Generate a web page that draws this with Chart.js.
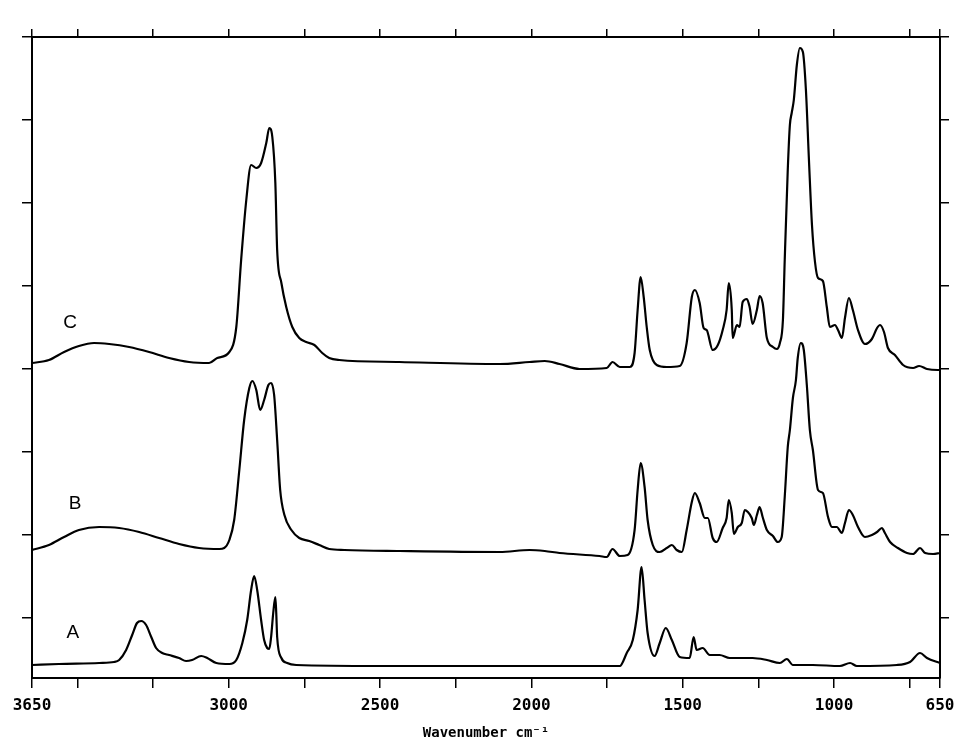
<!DOCTYPE html>
<html>
<head>
<meta charset="utf-8">
<script src="https://cdn.jsdelivr.net/npm/chart.js@4.4.0/dist/chart.umd.min.js"></script>
<style>
html,body{margin:0;padding:0;background:#fff;}
#wrap{width:975px;height:748px;}
</style>
</head>
<body>
<div id="wrap"><canvas id="c" width="975" height="748"></canvas></div>
<script>
// ---- X axis (wavenumber, cm-1) ----
const xMin = 650, xMax = 3650;
const xTicks = [3650, 3500, 3250, 3000, 2750, 2500, 2250, 2000, 1750, 1500, 1250, 1000, 750, 650];
const xTickLabels = [3650, 3000, 2500, 2000, 1500, 1000, 650];

// ---- Y axis (arbitrary absorbance units, offset traces) ----
const yMin = 0, yMax = 641;
const yTicks = [60, 143, 226, 309, 392, 475, 558, 641];

// ---- Trace A ----
const wavenumberA = [3650,3561,3428,3379,3362,3339,3319,3303,3289,3273,3256,3240,3220,3197,3164,3141,3121,3091,3071,3041,2998,2975,2955,2939,2926,2916,2906,2893,2883,2873,2866,2860,2853,2846,2843,2840,2826,2807,2777,2500,2000,1775,1708,1685,1665,1649,1636,1626,1616,1593,1576,1556,1536,1510,1477,1464,1454,1434,1411,1378,1345,1269,1222,1179,1156,1136,1070,981,947,925,792,749,716,693,650];
const intensityA = [13,14,15,16,18,28,43,55,57,53,41,30,25,23,20,17,18,22,20,15,14,18,35,58,88,102,88,58,38,30,29,41,65,81,65,41,20,15,13,12,12,12,12,25,38,68,111,78,45,22,35,50,38,21,20,41,28,30,23,23,20,20,18,15,19,13,13,12,15,12,13,16,25,20,15];

// ---- Trace B ----
const wavenumberB = [3650,3594,3544,3495,3428,3362,3296,3230,3164,3098,3031,3015,2998,2982,2965,2949,2932,2922,2909,2896,2883,2869,2860,2850,2840,2830,2816,2793,2767,2734,2701,2668,2618,2436,2105,2006,1956,1907,1775,1751,1732,1708,1682,1659,1649,1639,1626,1616,1599,1576,1553,1536,1520,1503,1487,1470,1460,1444,1427,1417,1401,1388,1368,1355,1348,1338,1331,1318,1305,1295,1285,1272,1265,1255,1246,1236,1222,1202,1186,1173,1163,1153,1146,1136,1126,1120,1110,1100,1090,1080,1070,1053,1037,1020,1007,991,974,964,951,938,921,898,875,858,842,832,815,789,759,739,716,699,673,650];
const intensityB = [128,133,141,148,151,150,146,140,134,130,129,130,138,158,208,258,290,297,288,268,278,293,295,283,238,188,163,148,140,137,133,129,128,127,126,128,127,125,122,121,129,122,123,148,188,215,191,158,133,126,130,133,128,126,148,176,185,175,160,160,140,136,150,160,178,165,144,151,155,168,166,160,153,163,171,161,148,142,136,141,181,231,248,280,298,320,335,328,293,248,228,188,185,161,151,151,145,155,168,163,151,141,143,146,150,145,136,130,125,124,130,125,124,125];

// ---- Trace C ----
const wavenumberC = [3650,3594,3544,3495,3445,3395,3329,3263,3197,3131,3065,3038,2998,2975,2959,2942,2926,2909,2893,2876,2866,2856,2846,2840,2826,2810,2790,2767,2744,2717,2691,2668,2635,2436,2105,2006,1956,1907,1841,1751,1732,1708,1675,1659,1649,1639,1629,1619,1609,1586,1553,1510,1487,1470,1460,1444,1431,1421,1401,1384,1368,1355,1348,1338,1335,1321,1312,1302,1288,1279,1269,1255,1246,1236,1222,1202,1189,1179,1169,1163,1153,1146,1140,1133,1123,1113,1103,1093,1083,1073,1063,1053,1037,1024,1014,997,987,974,964,951,938,921,898,875,858,848,835,822,799,772,739,719,693,657,650];
const intensityC = [315,318,326,332,335,334,331,326,320,316,315,320,326,351,418,478,513,510,515,535,550,541,495,428,395,371,351,340,336,333,325,320,318,316,314,316,317,314,309,310,316,311,311,325,368,401,381,351,328,313,311,312,335,381,388,375,350,348,328,333,348,368,395,368,340,353,351,376,379,371,354,368,382,375,340,331,329,335,358,418,508,553,565,578,613,630,626,588,518,453,416,400,397,371,351,353,348,340,360,380,368,348,334,339,350,353,346,330,323,313,310,312,309,308,308];

// ---- Trace labels ----
const traceNames = ['A', 'B', 'C'];
const labelWavenumbers = [3515, 3508, 3524];
const labelIntensities = [45, 174, 355];

function pts(w, v) { return w.map((x, i) => ({x: x, y: v[i]})); }

const MONO = '"DejaVu Sans Mono", "Liberation Mono", monospace';

const labelPlugin = {
  id: 'traceLabels',
  afterDatasetsDraw(chart) {
    const {ctx, scales} = chart;
    ctx.save();
    ctx.font = '19px "Liberation Sans", Arial, sans-serif';
    ctx.fillStyle = '#000';
    ctx.textAlign = 'center';
    ctx.textBaseline = 'middle';
    traceNames.forEach((t, i) => {
      ctx.fillText(t, scales.x.getPixelForValue(labelWavenumbers[i]), scales.y.getPixelForValue(labelIntensities[i]));
    });
    ctx.restore();
  }
};

function lineDs(label, w, v) {
  return {
    label: label,
    data: pts(w, v),
    borderColor: '#000',
    borderWidth: 2.2,
    pointRadius: 0,
    fill: false,
    tension: 0,
    cubicInterpolationMode: 'monotone',
    borderJoinStyle: 'round',
    xAxisID: 'x',
    yAxisID: 'y'
  };
}

const xTickSetter = (scale) => { scale.ticks = xTicks.map(v => ({value: v})); };
const yTickSetter = (scale) => { scale.ticks = yTicks.map(v => ({value: v})); };

new Chart(document.getElementById('c'), {
  type: 'line',
  data: {
    datasets: [
      lineDs('A', wavenumberA, intensityA),
      lineDs('B', wavenumberB, intensityB),
      lineDs('C', wavenumberC, intensityC)
    ]
  },
  options: {
    responsive: false,
    devicePixelRatio: 1,
    animation: false,
    layout: {padding: 0},
    plugins: {legend: {display: false}, tooltip: {enabled: false}},
    scales: {
      x: {
        type: 'linear', position: 'bottom', reverse: true, min: xMin, max: xMax,
        afterBuildTicks: xTickSetter,
        afterFit: (s) => { s.height = 70; },
        grid: {drawOnChartArea: false, drawTicks: true, tickLength: 10, color: '#000', lineWidth: 1.5},
        border: {display: true, color: '#000', width: 2},
        ticks: {
          autoSkip: false, maxRotation: 0, padding: 8, color: '#000',
          font: {family: MONO, size: 16, weight: 'bold'},
          callback: (v) => xTickLabels.includes(v) ? String(v) : ''
        },
        title: {display: true, text: 'Wavenumber cm\u207B\u00B9', color: '#000', font: {family: MONO, size: 14, weight: 'bold'}, padding: {top: 0, bottom: 6}}
      },
      x2: {
        type: 'linear', position: 'top', reverse: true, min: xMin, max: xMax,
        afterBuildTicks: xTickSetter,
        afterFit: (s) => { s.height = 37; },
        grid: {drawOnChartArea: false, drawTicks: true, tickLength: 8, color: '#000', lineWidth: 1.5},
        border: {display: true, color: '#000', width: 2},
        ticks: {display: false}
      },
      y: {
        type: 'linear', position: 'left', min: yMin, max: yMax,
        afterBuildTicks: yTickSetter,
        afterFit: (s) => { s.width = 32; },
        grid: {drawOnChartArea: false, drawTicks: true, tickLength: 10, color: '#000', lineWidth: 1.5},
        border: {display: true, color: '#000', width: 2},
        ticks: {display: false}
      },
      y2: {
        type: 'linear', position: 'right', min: yMin, max: yMax,
        afterBuildTicks: yTickSetter,
        afterFit: (s) => { s.width = 35; },
        grid: {drawOnChartArea: false, drawTicks: true, tickLength: 9, color: '#000', lineWidth: 1.5},
        border: {display: true, color: '#000', width: 2},
        ticks: {display: false}
      }
    }
  },
  plugins: [labelPlugin]
});
</script>
</body>
</html>
